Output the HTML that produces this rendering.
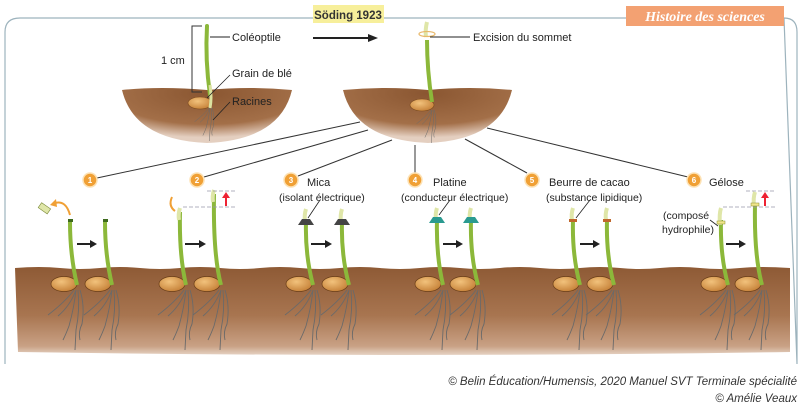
<!DOCTYPE html>
<html><head><meta charset="utf-8"><style>
html,body{margin:0;padding:0;background:#fff;}
svg{display:block;font-family:"Liberation Sans",sans-serif;}
</style></head><body>
<svg width="802" height="407" viewBox="0 0 802 407" xmlns="http://www.w3.org/2000/svg">
<defs>
<linearGradient id="soil" x1="0" y1="0" x2="0" y2="1">
<stop offset="0" stop-color="#8e5a35"/><stop offset="0.55" stop-color="#a87550"/><stop offset="0.9" stop-color="#c9a185"/><stop offset="1" stop-color="#e6d3c4"/>
</linearGradient>
<radialGradient id="bowl" cx="0.5" cy="0.1" r="0.8">
<stop offset="0" stop-color="#8a5631"/><stop offset="0.7" stop-color="#a36f48"/><stop offset="1" stop-color="#e4cfc0"/>
</radialGradient>
<radialGradient id="grain" cx="0.4" cy="0.35" r="0.7">
<stop offset="0" stop-color="#f2c27c"/><stop offset="1" stop-color="#c47f36"/>
</radialGradient>
<g id="roots" fill="none" stroke="#6a6a6a" stroke-width="0.9">
<path d="M0 0 Q-6 16 -18 26 M0 0 Q-2 18 -7 36 Q-10 44 -13 50 M2 0 Q4 20 0 40 L-1 60 M4 0 Q9 16 6 34 Q2 42 4 50 M-2 0 Q-11 12 -28 25"/>
</g>
</defs>

<!-- frame -->
<path d="M5 364 V32 Q5 18 20 18 H346 M384 18 H626 M784 18 Q797 18 797 32 V364 Z" fill="none" stroke="#9db3bd" stroke-width="1.2"/>
<rect x="313" y="5" width="71" height="18" fill="#f7ef9b"/>
<text x="348" y="19" font-size="11.5" font-weight="bold" text-anchor="middle" fill="#333">Söding 1923</text>
<rect x="626" y="6" width="158" height="20" fill="#f3a172"/>
<text x="705" y="21" font-size="14" font-style="italic" font-weight="bold" text-anchor="middle" fill="#fff" font-family="Liberation Serif,serif">Histoire des sciences</text>

<!-- top bowls -->
<path d="M122 90 Q160 86 207 90 Q250 86 292 90 Q280 140 207 143 Q134 140 122 90Z" fill="url(#bowl)"/>
<path d="M343 90 Q385 86 428 90 Q470 86 512 90 Q500 140 428 143 Q355 140 343 90Z" fill="url(#bowl)"/>
<use href="#roots" transform="translate(210 108) scale(0.55)"/>
<ellipse cx="200" cy="103" rx="12" ry="6" fill="url(#grain)" stroke="#7a4a1e" stroke-width="0.6"/>
<path d="M207 26 Q205 60 210 95" stroke="#8cb83a" stroke-width="4" fill="none" stroke-linecap="round"/>
<path d="M210 85 Q212 98 210 108" stroke="#dbe2a0" stroke-width="3" fill="none"/>
<path d="M202 26 H192 V92 H202" fill="none" stroke="#333" stroke-width="1"/>
<text x="161" y="64" font-size="11" fill="#222">1 cm</text>
<line x1="210" y1="37" x2="230" y2="37" stroke="#222"/>
<text x="232" y="41" font-size="11" fill="#222">Coléoptile</text>
<line x1="207" y1="98" x2="230" y2="75" stroke="#222" stroke-width="0.8"/>
<text x="232" y="77" font-size="11" fill="#222">Grain de blé</text>
<line x1="213" y1="120" x2="230" y2="102" stroke="#222" stroke-width="0.8"/>
<text x="232" y="105" font-size="11" fill="#222">Racines</text>
<line x1="313" y1="38" x2="370" y2="38" stroke="#222" stroke-width="2"/>
<path d="M378 38 L368 34 L368 42Z" fill="#222"/>
<use href="#roots" transform="translate(432 110) scale(0.55)"/>
<ellipse cx="422" cy="105" rx="12" ry="6" fill="url(#grain)" stroke="#7a4a1e" stroke-width="0.6"/>
<path d="M427 40 Q427 70 432 102" stroke="#8cb83a" stroke-width="4" fill="none"/>
<path d="M427 22 Q425 30 426 37" stroke="#dfe6a8" stroke-width="4" fill="none"/>
<ellipse cx="427" cy="34" rx="8" ry="2.5" fill="none" stroke="#e8b86a" stroke-width="1.2"/>
<line x1="430" y1="37" x2="470" y2="37" stroke="#222"/>
<text x="473" y="41" font-size="11" fill="#222">Excision du sommet</text>

<g stroke="#333" stroke-width="1" fill="none">
<line x1="97" y1="178" x2="360" y2="122"/>
<line x1="204" y1="177" x2="368" y2="130"/>
<line x1="298" y1="176" x2="392" y2="140"/>
<line x1="415" y1="173" x2="415" y2="145"/>
<line x1="527" y1="173" x2="465" y2="139"/>
<line x1="688" y1="177" x2="487" y2="128"/>
</g>
<g font-size="8" font-weight="bold" fill="#fff" text-anchor="middle">
<circle cx="90" cy="180" r="7" fill="#f0a035" stroke="#fde2b5" stroke-width="1.5"/><text x="90" y="183">1</text>
<circle cx="197" cy="180" r="7" fill="#f0a035" stroke="#fde2b5" stroke-width="1.5"/><text x="197" y="183">2</text>
<circle cx="291" cy="180" r="7" fill="#f0a035" stroke="#fde2b5" stroke-width="1.5"/><text x="291" y="183">3</text>
<circle cx="415" cy="180" r="7" fill="#f0a035" stroke="#fde2b5" stroke-width="1.5"/><text x="415" y="183">4</text>
<circle cx="532" cy="180" r="7" fill="#f0a035" stroke="#fde2b5" stroke-width="1.5"/><text x="532" y="183">5</text>
<circle cx="694" cy="180" r="7" fill="#f0a035" stroke="#fde2b5" stroke-width="1.5"/><text x="694" y="183">6</text>
</g>
<g font-size="11" fill="#222">
<text x="307" y="186">Mica</text>
<text x="279" y="201" font-size="10.5">(isolant électrique)</text>
<text x="433" y="186">Platine</text>
<text x="401" y="201" font-size="10.5">(conducteur électrique)</text>
<text x="549" y="186">Beurre de cacao</text>
<text x="546" y="201" font-size="10.5">(substance lipidique)</text>
<text x="709" y="186">Gélose</text>
<text x="663" y="219" font-size="10.5">(composé</text>
<text x="662" y="233" font-size="10.5">hydrophile)</text>
</g>

<path d="M15 268 Q40 266 60 268 T100 268 T140 268 T180 268 T220 268 T260 268 T300 268 T340 268 T380 268 T420 268 T460 268 T500 268 T540 268 T580 268 T620 268 T660 268 T700 268 T740 268 T790 268 V352 Q400 358 18 352Z" fill="url(#soil)"/>

<g>
<use href="#roots" x="76" y="290"/><ellipse cx="64" cy="284" rx="13" ry="7.5" fill="url(#grain)" stroke="#6a3e18" stroke-width="0.7"/>
<path d="M70 222 Q70 255 77 285" stroke="#8cb83a" stroke-width="4" fill="none"/>
<use href="#roots" x="112" y="290"/><ellipse cx="98" cy="284" rx="13" ry="7.5" fill="url(#grain)" stroke="#6a3e18" stroke-width="0.7"/>
<path d="M105 222 Q105 255 112 285" stroke="#8cb83a" stroke-width="4" fill="none"/>
<rect x="68" y="219" width="5" height="3" fill="#3e6a1d"/><rect x="103" y="219" width="5" height="3" fill="#3e6a1d"/>
<rect x="41" y="203" width="6" height="11" fill="#dfe6a8" stroke="#7b8a3a" stroke-width="0.6" transform="rotate(-55 44 208)"/>
<path d="M55 203 Q66 200 70 215" stroke="#f0a035" stroke-width="2" fill="none"/>
<path d="M50 205 L56 199 L57 207Z" fill="#f0a035"/>

<use href="#roots" x="186" y="290"/><ellipse cx="172" cy="284" rx="13" ry="7.5" fill="url(#grain)" stroke="#6a3e18" stroke-width="0.7"/>
<path d="M180 212 Q179 255 186 285" stroke="#8cb83a" stroke-width="4" fill="none"/>
<path d="M180 208 Q178 214 179 220" stroke="#dfe6a8" stroke-width="4" fill="none"/>
<use href="#roots" x="221" y="290"/><ellipse cx="207" cy="284" rx="13" ry="7.5" fill="url(#grain)" stroke="#6a3e18" stroke-width="0.7"/>
<path d="M214 194 Q213 255 221 285" stroke="#8cb83a" stroke-width="4" fill="none"/>
<path d="M214 190 Q212 196 213 202" stroke="#dfe6a8" stroke-width="4" fill="none"/>
<path d="M172 197 Q168 206 175 211" stroke="#f0a035" stroke-width="2" fill="none"/>
<g stroke="#99a" stroke-width="0.7" stroke-dasharray="4 2"><line x1="183" y1="207" x2="237" y2="207"/><line x1="207" y1="191" x2="237" y2="191"/></g>
<line x1="226" y1="206" x2="226" y2="196" stroke="#e23" stroke-width="2"/><path d="M226 192 L222 198 L230 198Z" fill="#e23"/>

<use href="#roots" x="313" y="290"/><ellipse cx="299" cy="284" rx="13" ry="7.5" fill="url(#grain)" stroke="#6a3e18" stroke-width="0.7"/>
<path d="M306 222 Q305 255 313 285" stroke="#8cb83a" stroke-width="4" fill="none"/><path d="M306 209 Q304 215 305 222" stroke="#dfe6a8" stroke-width="4" fill="none"/>
<path d="M298 225 L302 219 L310 219 L314 225Z" fill="#444"/>
<use href="#roots" x="349" y="290"/><ellipse cx="335" cy="284" rx="13" ry="7.5" fill="url(#grain)" stroke="#6a3e18" stroke-width="0.7"/>
<path d="M342 222 Q341 255 349 285" stroke="#8cb83a" stroke-width="4" fill="none"/><path d="M342 209 Q340 215 341 222" stroke="#dfe6a8" stroke-width="4" fill="none"/>
<path d="M334 225 L338 219 L346 219 L350 225Z" fill="#444"/>
<line x1="308" y1="218" x2="320" y2="200" stroke="#222" stroke-width="0.8"/>

<use href="#roots" x="443" y="290"/><ellipse cx="428" cy="284" rx="13" ry="7.5" fill="url(#grain)" stroke="#6a3e18" stroke-width="0.7"/>
<path d="M437 220 Q436 255 443 285" stroke="#8cb83a" stroke-width="4" fill="none"/><path d="M437 208 Q435 214 436 220" stroke="#dfe6a8" stroke-width="4" fill="none"/>
<path d="M429 223 L433 217 L441 217 L445 223Z" fill="#2a9a90"/>
<use href="#roots" x="478" y="290"/><ellipse cx="463" cy="284" rx="13" ry="7.5" fill="url(#grain)" stroke="#6a3e18" stroke-width="0.7"/>
<path d="M471 220 Q470 255 478 285" stroke="#8cb83a" stroke-width="4" fill="none"/><path d="M471 208 Q469 214 470 220" stroke="#dfe6a8" stroke-width="4" fill="none"/>
<path d="M463 223 L467 217 L475 217 L479 223Z" fill="#2a9a90"/>
<line x1="439" y1="215" x2="450" y2="200" stroke="#222" stroke-width="0.8"/>

<use href="#roots" x="580" y="290"/><ellipse cx="566" cy="284" rx="13" ry="7.5" fill="url(#grain)" stroke="#6a3e18" stroke-width="0.7"/>
<path d="M573 220 Q572 255 580 285" stroke="#8cb83a" stroke-width="4" fill="none"/><path d="M573 208 Q571 214 572 220" stroke="#dfe6a8" stroke-width="4" fill="none"/>
<rect x="569" y="219" width="8" height="3" fill="#c0672c"/>
<use href="#roots" x="614" y="290"/><ellipse cx="600" cy="284" rx="13" ry="7.5" fill="url(#grain)" stroke="#6a3e18" stroke-width="0.7"/>
<path d="M607 220 Q606 255 614 285" stroke="#8cb83a" stroke-width="4" fill="none"/><path d="M607 208 Q605 214 606 220" stroke="#dfe6a8" stroke-width="4" fill="none"/>
<rect x="603" y="219" width="8" height="3" fill="#c0672c"/>
<line x1="576" y1="218" x2="590" y2="200" stroke="#222" stroke-width="0.8"/>

<use href="#roots" x="728" y="290"/><ellipse cx="714" cy="284" rx="13" ry="7.5" fill="url(#grain)" stroke="#6a3e18" stroke-width="0.7"/>
<path d="M721 220 Q720 255 728 285" stroke="#8cb83a" stroke-width="4" fill="none"/><path d="M721 208 Q719 214 720 225" stroke="#dfe6a8" stroke-width="4" fill="none"/>
<rect x="717" y="221" width="8" height="3" fill="#f0e68a" stroke="#8a8a30" stroke-width="0.5"/>
<use href="#roots" x="762" y="290"/><ellipse cx="748" cy="284" rx="13" ry="7.5" fill="url(#grain)" stroke="#6a3e18" stroke-width="0.7"/>
<path d="M755 205 Q754 255 762 285" stroke="#8cb83a" stroke-width="4" fill="none"/><path d="M755 192 Q753 198 754 206" stroke="#dfe6a8" stroke-width="4" fill="none"/>
<rect x="751" y="203" width="8" height="3" fill="#f0e68a" stroke="#8a8a30" stroke-width="0.5"/>
<g stroke="#99a" stroke-width="0.7" stroke-dasharray="4 2"><line x1="723" y1="207" x2="776" y2="207"/><line x1="746" y1="191" x2="776" y2="191"/></g>
<line x1="765" y1="206" x2="765" y2="196" stroke="#e23" stroke-width="2"/><path d="M765 192 L761 198 L769 198Z" fill="#e23"/>
<line x1="710" y1="220" x2="718" y2="226" stroke="#222" stroke-width="0.8"/>
</g>

<g fill="#222" stroke="#222" stroke-width="2">
<line x1="77" y1="244" x2="92" y2="244"/><path d="M97 244 L90 240 L90 248Z" stroke="none"/>
<line x1="185" y1="244" x2="200" y2="244"/><path d="M206 244 L199 240 L199 248Z" stroke="none"/>
<line x1="311" y1="244" x2="326" y2="244"/><path d="M332 244 L325 240 L325 248Z" stroke="none"/>
<line x1="443" y1="244" x2="457" y2="244"/><path d="M463 244 L456 240 L456 248Z" stroke="none"/>
<line x1="580" y1="244" x2="594" y2="244"/><path d="M600 244 L593 240 L593 248Z" stroke="none"/>
<line x1="726" y1="244" x2="740" y2="244"/><path d="M746 244 L739 240 L739 248Z" stroke="none"/>
</g>

<text x="797" y="385" font-size="11.5" font-style="italic" text-anchor="end" fill="#333">© Belin Éducation/Humensis, 2020 Manuel SVT Terminale spécialité</text>
<text x="797" y="402" font-size="11.5" font-style="italic" text-anchor="end" fill="#333">© Amélie Veaux</text>
</svg>
</body></html>
